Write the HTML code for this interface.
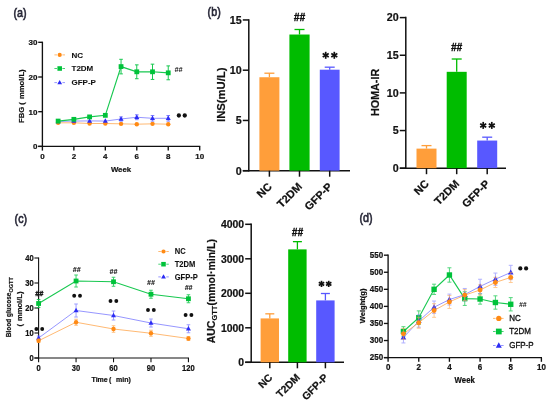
<!DOCTYPE html>
<html><head><meta charset="utf-8"><style>
html,body{margin:0;padding:0;background:#fff;}
svg{display:block;will-change:transform;filter:blur(0.3px);}
text{font-family:"Liberation Sans", sans-serif;}
</style></head><body>
<svg width="550" height="407" viewBox="0 0 550 407">
<rect width="550" height="407" fill="#fff"/>
<line x1="42.40" y1="41.70" x2="42.40" y2="147.00" stroke="#111" stroke-width="1.35" />
<line x1="38.20" y1="146.40" x2="200.30" y2="146.40" stroke="#111" stroke-width="1.35" />
<line x1="38.20" y1="146.40" x2="42.40" y2="146.40" stroke="#111" stroke-width="1.35" />
<text x="37.40" y="149.26" font-size="8.0" text-anchor="end" font-weight="bold" fill="#111"  stroke="#111" stroke-width="0.2">0</text>
<line x1="38.20" y1="111.70" x2="42.40" y2="111.70" stroke="#111" stroke-width="1.35" />
<text x="37.40" y="114.56" font-size="8.0" text-anchor="end" font-weight="bold" fill="#111"  stroke="#111" stroke-width="0.2">10</text>
<line x1="38.20" y1="77.00" x2="42.40" y2="77.00" stroke="#111" stroke-width="1.35" />
<text x="37.40" y="79.86" font-size="8.0" text-anchor="end" font-weight="bold" fill="#111"  stroke="#111" stroke-width="0.2">20</text>
<line x1="38.20" y1="42.30" x2="42.40" y2="42.30" stroke="#111" stroke-width="1.35" />
<text x="37.40" y="45.16" font-size="8.0" text-anchor="end" font-weight="bold" fill="#111"  stroke="#111" stroke-width="0.2">30</text>
<line x1="42.40" y1="146.40" x2="42.40" y2="150.60" stroke="#111" stroke-width="1.35" />
<text x="42.40" y="159.26" font-size="8.0" text-anchor="middle" font-weight="bold" fill="#111"  stroke="#111" stroke-width="0.2">0</text>
<line x1="73.86" y1="146.40" x2="73.86" y2="150.60" stroke="#111" stroke-width="1.35" />
<text x="73.86" y="159.26" font-size="8.0" text-anchor="middle" font-weight="bold" fill="#111"  stroke="#111" stroke-width="0.2">2</text>
<line x1="105.32" y1="146.40" x2="105.32" y2="150.60" stroke="#111" stroke-width="1.35" />
<text x="105.32" y="159.26" font-size="8.0" text-anchor="middle" font-weight="bold" fill="#111"  stroke="#111" stroke-width="0.2">4</text>
<line x1="136.78" y1="146.40" x2="136.78" y2="150.60" stroke="#111" stroke-width="1.35" />
<text x="136.78" y="159.26" font-size="8.0" text-anchor="middle" font-weight="bold" fill="#111"  stroke="#111" stroke-width="0.2">6</text>
<line x1="168.24" y1="146.40" x2="168.24" y2="150.60" stroke="#111" stroke-width="1.35" />
<text x="168.24" y="159.26" font-size="8.0" text-anchor="middle" font-weight="bold" fill="#111"  stroke="#111" stroke-width="0.2">8</text>
<line x1="199.70" y1="146.40" x2="199.70" y2="150.60" stroke="#111" stroke-width="1.35" />
<text x="199.70" y="159.26" font-size="8.0" text-anchor="middle" font-weight="bold" fill="#111"  stroke="#111" stroke-width="0.2">10</text>
<text x="121.00" y="172.39" font-size="7.8" text-anchor="middle" font-weight="bold" fill="#111"  stroke="#111" stroke-width="0.2">Week</text>
<text transform="translate(23.52,122.9) rotate(-90)" font-size="7.6" font-weight="bold" fill="#111" stroke="#111" stroke-width="0.2">FBG<tspan dx="2.2">(</tspan><tspan dx="3.2">mmol/L)</tspan></text>
<polyline points="58.13,122.80 73.86,122.80 89.59,123.50 105.32,123.50 121.05,123.84 136.78,124.19 152.51,123.84 168.24,124.19" fill="none" stroke="#FFA850" stroke-width="1.0" opacity="0.8"/>
<circle cx="58.13" cy="122.80" r="2.20" fill="#FF8A14"/>
<circle cx="73.86" cy="122.80" r="2.20" fill="#FF8A14"/>
<circle cx="89.59" cy="123.50" r="2.20" fill="#FF8A14"/>
<circle cx="105.32" cy="123.50" r="2.20" fill="#FF8A14"/>
<circle cx="121.05" cy="123.84" r="2.20" fill="#FF8A14"/>
<circle cx="136.78" cy="124.19" r="2.20" fill="#FF8A14"/>
<circle cx="152.51" cy="123.84" r="2.20" fill="#FF8A14"/>
<circle cx="168.24" cy="124.19" r="2.20" fill="#FF8A14"/>
<polyline points="58.13,121.42 73.86,121.07 89.59,120.90 105.32,121.07 121.05,118.99 136.78,117.25 152.51,118.29 168.24,118.29" fill="none" stroke="#7C7CFF" stroke-width="1.0" opacity="0.8"/>
<polygon points="58.13,118.72 60.63,123.22 55.63,123.22" fill="#2C2CF4"/>
<polygon points="73.86,118.37 76.36,122.87 71.36,122.87" fill="#2C2CF4"/>
<polygon points="89.59,118.20 92.09,122.70 87.09,122.70" fill="#2C2CF4"/>
<polygon points="105.32,118.37 107.82,122.87 102.82,122.87" fill="#2C2CF4"/>
<g opacity="1.0">
<line x1="121.05" y1="116.91" x2="121.05" y2="121.07" stroke="#7C7CFF" stroke-width="1.0" />
<line x1="119.25" y1="116.91" x2="122.85" y2="116.91" stroke="#7C7CFF" stroke-width="1.0" />
<line x1="119.25" y1="121.07" x2="122.85" y2="121.07" stroke="#7C7CFF" stroke-width="1.0" />
</g>
<polygon points="121.05,116.29 123.55,120.79 118.55,120.79" fill="#2C2CF4"/>
<g opacity="1.0">
<line x1="136.78" y1="114.82" x2="136.78" y2="119.68" stroke="#7C7CFF" stroke-width="1.0" />
<line x1="134.98" y1="114.82" x2="138.58" y2="114.82" stroke="#7C7CFF" stroke-width="1.0" />
<line x1="134.98" y1="119.68" x2="138.58" y2="119.68" stroke="#7C7CFF" stroke-width="1.0" />
</g>
<polygon points="136.78,114.55 139.28,119.05 134.28,119.05" fill="#2C2CF4"/>
<g opacity="1.0">
<line x1="152.51" y1="115.52" x2="152.51" y2="121.07" stroke="#7C7CFF" stroke-width="1.0" />
<line x1="150.71" y1="115.52" x2="154.31" y2="115.52" stroke="#7C7CFF" stroke-width="1.0" />
<line x1="150.71" y1="121.07" x2="154.31" y2="121.07" stroke="#7C7CFF" stroke-width="1.0" />
</g>
<polygon points="152.51,115.59 155.01,120.09 150.01,120.09" fill="#2C2CF4"/>
<g opacity="1.0">
<line x1="168.24" y1="115.52" x2="168.24" y2="121.07" stroke="#7C7CFF" stroke-width="1.0" />
<line x1="166.44" y1="115.52" x2="170.04" y2="115.52" stroke="#7C7CFF" stroke-width="1.0" />
<line x1="166.44" y1="121.07" x2="170.04" y2="121.07" stroke="#7C7CFF" stroke-width="1.0" />
</g>
<polygon points="168.24,115.59 170.74,120.09 165.74,120.09" fill="#2C2CF4"/>
<polyline points="58.13,121.07 73.86,119.33 89.59,116.91 105.32,115.34 121.05,66.59 136.78,71.80 152.51,71.80 168.24,72.84" fill="none" stroke="#18C850" stroke-width="1.15" opacity="1"/>
<rect x="55.73" y="118.67" width="4.80" height="4.80" fill="#00C23A"/>
<rect x="71.46" y="116.93" width="4.80" height="4.80" fill="#00C23A"/>
<rect x="87.19" y="114.50" width="4.80" height="4.80" fill="#00C23A"/>
<rect x="102.92" y="112.94" width="4.80" height="4.80" fill="#00C23A"/>
<g opacity="1.0">
<line x1="121.05" y1="59.30" x2="121.05" y2="73.88" stroke="#18C850" stroke-width="1.0" />
<line x1="119.25" y1="59.30" x2="122.85" y2="59.30" stroke="#18C850" stroke-width="1.0" />
<line x1="119.25" y1="73.88" x2="122.85" y2="73.88" stroke="#18C850" stroke-width="1.0" />
</g>
<rect x="118.65" y="64.19" width="4.80" height="4.80" fill="#00C23A"/>
<g opacity="1.0">
<line x1="136.78" y1="64.86" x2="136.78" y2="78.73" stroke="#18C850" stroke-width="1.0" />
<line x1="134.98" y1="64.86" x2="138.58" y2="64.86" stroke="#18C850" stroke-width="1.0" />
<line x1="134.98" y1="78.73" x2="138.58" y2="78.73" stroke="#18C850" stroke-width="1.0" />
</g>
<rect x="134.38" y="69.39" width="4.80" height="4.80" fill="#00C23A"/>
<g opacity="1.0">
<line x1="152.51" y1="64.16" x2="152.51" y2="79.43" stroke="#18C850" stroke-width="1.0" />
<line x1="150.71" y1="64.16" x2="154.31" y2="64.16" stroke="#18C850" stroke-width="1.0" />
<line x1="150.71" y1="79.43" x2="154.31" y2="79.43" stroke="#18C850" stroke-width="1.0" />
</g>
<rect x="150.11" y="69.39" width="4.80" height="4.80" fill="#00C23A"/>
<g opacity="1.0">
<line x1="168.24" y1="65.90" x2="168.24" y2="79.78" stroke="#18C850" stroke-width="1.0" />
<line x1="166.44" y1="65.90" x2="170.04" y2="65.90" stroke="#18C850" stroke-width="1.0" />
<line x1="166.44" y1="79.78" x2="170.04" y2="79.78" stroke="#18C850" stroke-width="1.0" />
</g>
<rect x="165.84" y="70.44" width="4.80" height="4.80" fill="#00C23A"/>
<line x1="54.40" y1="54.90" x2="65.40" y2="54.90" stroke="#FFA850" stroke-width="1.0" stroke-dasharray="2.6,1.4" opacity="0.8"/>
<circle cx="59.70" cy="54.90" r="2.09" fill="#FF8A14"/>
<text x="71.50" y="57.76" font-size="8.0" text-anchor="start" font-weight="bold" fill="#111" stroke="#111" stroke-width="0.08">NC</text>
<line x1="54.40" y1="68.50" x2="65.40" y2="68.50" stroke="#18C850" stroke-width="1.0" stroke-dasharray="2.6,1.4" opacity="0.8"/>
<rect x="57.42" y="66.22" width="4.56" height="4.56" fill="#00C23A"/>
<text x="71.50" y="71.36" font-size="8.0" text-anchor="start" font-weight="bold" fill="#111" stroke="#111" stroke-width="0.08">T2DM</text>
<line x1="54.40" y1="82.60" x2="65.40" y2="82.60" stroke="#7C7CFF" stroke-width="1.0" stroke-dasharray="2.6,1.4" opacity="0.8"/>
<polygon points="59.70,80.03 62.08,84.31 57.33,84.31" fill="#2C2CF4"/>
<text x="71.50" y="85.46" font-size="8.0" text-anchor="start" font-weight="bold" fill="#111" stroke="#111" stroke-width="0.08">GFP-P</text>
<text x="178.50" y="71.59" font-size="7.2" text-anchor="middle" font-weight="bold" fill="#111" font-style="italic" stroke="#111" stroke-width="0.00">##</text>
<circle cx="178.85" cy="115.50" r="2.15" fill="#111"/>
<circle cx="184.75" cy="115.50" r="2.15" fill="#111"/>
<line x1="248.80" y1="19.20" x2="248.80" y2="171.45" stroke="#111" stroke-width="1.5" />
<line x1="242.80" y1="170.70" x2="350.00" y2="170.70" stroke="#111" stroke-width="1.5" />
<line x1="242.80" y1="170.70" x2="248.80" y2="170.70" stroke="#111" stroke-width="1.5" />
<text x="241.60" y="174.53" font-size="10.7" text-anchor="end" font-weight="bold" fill="#111"  stroke="#111" stroke-width="0.2">0</text>
<line x1="242.80" y1="120.45" x2="248.80" y2="120.45" stroke="#111" stroke-width="1.5" />
<text x="241.60" y="124.28" font-size="10.7" text-anchor="end" font-weight="bold" fill="#111"  stroke="#111" stroke-width="0.2">5</text>
<line x1="242.80" y1="70.20" x2="248.80" y2="70.20" stroke="#111" stroke-width="1.5" />
<text x="241.60" y="74.03" font-size="10.7" text-anchor="end" font-weight="bold" fill="#111"  stroke="#111" stroke-width="0.2">10</text>
<line x1="242.80" y1="19.95" x2="248.80" y2="19.95" stroke="#111" stroke-width="1.5" />
<text x="241.60" y="23.78" font-size="10.7" text-anchor="end" font-weight="bold" fill="#111"  stroke="#111" stroke-width="0.2">15</text>
<rect x="259.40" y="77.23" width="20.00" height="93.47" fill="#FF9E3A"/>
<line x1="269.40" y1="77.23" x2="269.40" y2="73.21" stroke="#FF9E3A" stroke-width="1.3" />
<line x1="264.40" y1="73.21" x2="274.40" y2="73.21" stroke="#FF9E3A" stroke-width="1.3" />
<line x1="269.40" y1="170.70" x2="269.40" y2="176.70" stroke="#111" stroke-width="1.5" />
<text transform="translate(272.60,187.30) rotate(-45)" font-size="11.00" font-weight="bold" text-anchor="end" fill="#111" stroke="#111" stroke-width="0.2">NC</text>
<rect x="289.40" y="34.52" width="20.20" height="136.18" fill="#00BC00"/>
<line x1="299.50" y1="34.52" x2="299.50" y2="29.50" stroke="#00BC00" stroke-width="1.3" />
<line x1="294.50" y1="29.50" x2="304.50" y2="29.50" stroke="#00BC00" stroke-width="1.3" />
<line x1="299.50" y1="170.70" x2="299.50" y2="176.70" stroke="#111" stroke-width="1.5" />
<text transform="translate(302.70,187.30) rotate(-45)" font-size="11.00" font-weight="bold" text-anchor="end" fill="#111" stroke="#111" stroke-width="0.2">T2DM</text>
<rect x="319.80" y="69.70" width="19.80" height="101.00" fill="#5858FF"/>
<line x1="329.70" y1="69.70" x2="329.70" y2="67.18" stroke="#5858FF" stroke-width="1.3" />
<line x1="324.70" y1="67.18" x2="334.70" y2="67.18" stroke="#5858FF" stroke-width="1.3" />
<line x1="329.70" y1="170.70" x2="329.70" y2="176.70" stroke="#111" stroke-width="1.5" />
<text transform="translate(332.90,187.30) rotate(-45)" font-size="11.00" font-weight="bold" text-anchor="end" fill="#111" stroke="#111" stroke-width="0.2">GFP-P</text>
<text transform="translate(224.54,94.80) rotate(-90)" font-size="11" font-weight="bold" text-anchor="middle" fill="#111" stroke="#111" stroke-width="0.2" textLength="54.4" lengthAdjust="spacingAndGlyphs">INS(mU/L)</text>
<text x="299.40" y="20.80" font-size="10" text-anchor="middle" font-weight="bold" fill="#111" font-style="italic" stroke="#111" stroke-width="0.40">##</text>
<line x1="325.70" y1="51.80" x2="325.70" y2="58.80" stroke="#111" stroke-width="1.7" />
<line x1="322.67" y1="53.55" x2="328.73" y2="57.05" stroke="#111" stroke-width="1.7" />
<line x1="328.73" y1="53.55" x2="322.67" y2="57.05" stroke="#111" stroke-width="1.7" />
<line x1="334.30" y1="51.80" x2="334.30" y2="58.80" stroke="#111" stroke-width="1.7" />
<line x1="331.27" y1="53.55" x2="337.33" y2="57.05" stroke="#111" stroke-width="1.7" />
<line x1="337.33" y1="53.55" x2="331.27" y2="57.05" stroke="#111" stroke-width="1.7" />
<line x1="405.80" y1="16.85" x2="405.80" y2="168.95" stroke="#111" stroke-width="1.5" />
<line x1="399.80" y1="168.20" x2="506.00" y2="168.20" stroke="#111" stroke-width="1.5" />
<line x1="399.80" y1="168.20" x2="405.80" y2="168.20" stroke="#111" stroke-width="1.5" />
<text x="398.60" y="172.03" font-size="10.7" text-anchor="end" font-weight="bold" fill="#111"  stroke="#111" stroke-width="0.2">0</text>
<line x1="399.80" y1="130.55" x2="405.80" y2="130.55" stroke="#111" stroke-width="1.5" />
<text x="398.60" y="134.38" font-size="10.7" text-anchor="end" font-weight="bold" fill="#111"  stroke="#111" stroke-width="0.2">5</text>
<line x1="399.80" y1="92.90" x2="405.80" y2="92.90" stroke="#111" stroke-width="1.5" />
<text x="398.60" y="96.73" font-size="10.7" text-anchor="end" font-weight="bold" fill="#111"  stroke="#111" stroke-width="0.2">10</text>
<line x1="399.80" y1="55.25" x2="405.80" y2="55.25" stroke="#111" stroke-width="1.5" />
<text x="398.60" y="59.08" font-size="10.7" text-anchor="end" font-weight="bold" fill="#111"  stroke="#111" stroke-width="0.2">15</text>
<line x1="399.80" y1="17.60" x2="405.80" y2="17.60" stroke="#111" stroke-width="1.5" />
<text x="398.60" y="21.43" font-size="10.7" text-anchor="end" font-weight="bold" fill="#111"  stroke="#111" stroke-width="0.2">20</text>
<rect x="416.50" y="148.62" width="20.00" height="19.58" fill="#FF9E3A"/>
<line x1="426.50" y1="148.62" x2="426.50" y2="145.61" stroke="#FF9E3A" stroke-width="1.3" />
<line x1="421.50" y1="145.61" x2="431.50" y2="145.61" stroke="#FF9E3A" stroke-width="1.3" />
<line x1="426.50" y1="168.20" x2="426.50" y2="174.20" stroke="#111" stroke-width="1.5" />
<text transform="translate(429.70,184.50) rotate(-45)" font-size="11.00" font-weight="bold" text-anchor="end" fill="#111" stroke="#111" stroke-width="0.2">NC</text>
<rect x="446.70" y="71.82" width="20.00" height="96.38" fill="#00BC00"/>
<line x1="456.70" y1="71.82" x2="456.70" y2="59.01" stroke="#00BC00" stroke-width="1.3" />
<line x1="451.70" y1="59.01" x2="461.70" y2="59.01" stroke="#00BC00" stroke-width="1.3" />
<line x1="456.70" y1="168.20" x2="456.70" y2="174.20" stroke="#111" stroke-width="1.5" />
<text transform="translate(459.90,184.50) rotate(-45)" font-size="11.00" font-weight="bold" text-anchor="end" fill="#111" stroke="#111" stroke-width="0.2">T2DM</text>
<rect x="477.20" y="140.56" width="20.00" height="27.64" fill="#5858FF"/>
<line x1="487.20" y1="140.56" x2="487.20" y2="137.18" stroke="#5858FF" stroke-width="1.3" />
<line x1="482.20" y1="137.18" x2="492.20" y2="137.18" stroke="#5858FF" stroke-width="1.3" />
<line x1="487.20" y1="168.20" x2="487.20" y2="174.20" stroke="#111" stroke-width="1.5" />
<text transform="translate(490.40,184.50) rotate(-45)" font-size="11.00" font-weight="bold" text-anchor="end" fill="#111" stroke="#111" stroke-width="0.2">GFP-P</text>
<text transform="translate(378.55,92.40) rotate(-90)" font-size="11" font-weight="bold" text-anchor="middle" fill="#111" stroke="#111" stroke-width="0.2" textLength="47.2" lengthAdjust="spacingAndGlyphs">HOMA-IR</text>
<text x="456.60" y="50.80" font-size="10" text-anchor="middle" font-weight="bold" fill="#111" font-style="italic" stroke="#111" stroke-width="0.40">##</text>
<line x1="483.20" y1="121.90" x2="483.20" y2="128.90" stroke="#111" stroke-width="1.7" />
<line x1="480.17" y1="123.65" x2="486.23" y2="127.15" stroke="#111" stroke-width="1.7" />
<line x1="486.23" y1="123.65" x2="480.17" y2="127.15" stroke="#111" stroke-width="1.7" />
<line x1="491.80" y1="121.90" x2="491.80" y2="128.90" stroke="#111" stroke-width="1.7" />
<line x1="488.77" y1="123.65" x2="494.83" y2="127.15" stroke="#111" stroke-width="1.7" />
<line x1="494.83" y1="123.65" x2="488.77" y2="127.15" stroke="#111" stroke-width="1.7" />
<line x1="251.20" y1="223.55" x2="251.20" y2="363.05" stroke="#111" stroke-width="1.5" />
<line x1="245.20" y1="362.30" x2="344.00" y2="362.30" stroke="#111" stroke-width="1.5" />
<line x1="245.20" y1="362.30" x2="251.20" y2="362.30" stroke="#111" stroke-width="1.5" />
<text x="244.00" y="366.02" font-size="10.4" text-anchor="end" font-weight="bold" fill="#111"  stroke="#111" stroke-width="0.2">0</text>
<line x1="245.20" y1="327.80" x2="251.20" y2="327.80" stroke="#111" stroke-width="1.5" />
<text x="244.00" y="331.52" font-size="10.4" text-anchor="end" font-weight="bold" fill="#111"  stroke="#111" stroke-width="0.2">1000</text>
<line x1="245.20" y1="293.30" x2="251.20" y2="293.30" stroke="#111" stroke-width="1.5" />
<text x="244.00" y="297.02" font-size="10.4" text-anchor="end" font-weight="bold" fill="#111"  stroke="#111" stroke-width="0.2">2000</text>
<line x1="245.20" y1="258.80" x2="251.20" y2="258.80" stroke="#111" stroke-width="1.5" />
<text x="244.00" y="262.52" font-size="10.4" text-anchor="end" font-weight="bold" fill="#111"  stroke="#111" stroke-width="0.2">3000</text>
<line x1="245.20" y1="224.30" x2="251.20" y2="224.30" stroke="#111" stroke-width="1.5" />
<text x="244.00" y="228.02" font-size="10.4" text-anchor="end" font-weight="bold" fill="#111"  stroke="#111" stroke-width="0.2">4000</text>
<rect x="260.60" y="318.42" width="18.40" height="43.88" fill="#FF9E3A"/>
<line x1="269.80" y1="318.42" x2="269.80" y2="313.83" stroke="#FF9E3A" stroke-width="1.3" />
<line x1="265.30" y1="313.83" x2="274.30" y2="313.83" stroke="#FF9E3A" stroke-width="1.3" />
<line x1="269.80" y1="362.30" x2="269.80" y2="368.30" stroke="#111" stroke-width="1.5" />
<text transform="translate(273.00,378.20) rotate(-45)" font-size="10.40" font-weight="bold" text-anchor="end" fill="#111" stroke="#111" stroke-width="0.2">NC</text>
<rect x="288.20" y="249.38" width="18.40" height="112.92" fill="#00BC00"/>
<line x1="297.40" y1="249.38" x2="297.40" y2="241.65" stroke="#00BC00" stroke-width="1.3" />
<line x1="292.90" y1="241.65" x2="301.90" y2="241.65" stroke="#00BC00" stroke-width="1.3" />
<line x1="297.40" y1="362.30" x2="297.40" y2="368.30" stroke="#111" stroke-width="1.5" />
<text transform="translate(300.60,378.20) rotate(-45)" font-size="10.40" font-weight="bold" text-anchor="end" fill="#111" stroke="#111" stroke-width="0.2">T2DM</text>
<rect x="316.20" y="300.41" width="18.40" height="61.89" fill="#5858FF"/>
<line x1="325.40" y1="300.41" x2="325.40" y2="293.51" stroke="#5858FF" stroke-width="1.3" />
<line x1="320.90" y1="293.51" x2="329.90" y2="293.51" stroke="#5858FF" stroke-width="1.3" />
<line x1="325.40" y1="362.30" x2="325.40" y2="368.30" stroke="#111" stroke-width="1.5" />
<text transform="translate(328.60,378.20) rotate(-45)" font-size="10.40" font-weight="bold" text-anchor="end" fill="#111" stroke="#111" stroke-width="0.2">GFP-P</text>
<text transform="translate(214.56,291.20) rotate(-90)" font-size="10.5" font-weight="bold" text-anchor="middle" fill="#111" stroke="#111" stroke-width="0.2" textLength="104.3" lengthAdjust="spacingAndGlyphs">AUC<tspan font-size="7.5" dy="2">GTT</tspan><tspan dy="-2">(mmol·min/L)</tspan></text>
<text x="297.40" y="236.40" font-size="10" text-anchor="middle" font-weight="bold" fill="#111" font-style="italic" stroke="#111" stroke-width="0.40">##</text>
<line x1="321.50" y1="280.80" x2="321.50" y2="287.00" stroke="#111" stroke-width="1.7" />
<line x1="318.82" y1="282.35" x2="324.18" y2="285.45" stroke="#111" stroke-width="1.7" />
<line x1="324.18" y1="282.35" x2="318.82" y2="285.45" stroke="#111" stroke-width="1.7" />
<line x1="328.70" y1="280.80" x2="328.70" y2="287.00" stroke="#111" stroke-width="1.7" />
<line x1="326.02" y1="282.35" x2="331.38" y2="285.45" stroke="#111" stroke-width="1.7" />
<line x1="331.38" y1="282.35" x2="326.02" y2="285.45" stroke="#111" stroke-width="1.7" />
<line x1="38.60" y1="257.40" x2="38.60" y2="358.60" stroke="#111" stroke-width="1.1" />
<line x1="34.40" y1="358.00" x2="189.04" y2="358.00" stroke="#111" stroke-width="1.1" />
<line x1="34.40" y1="358.00" x2="38.60" y2="358.00" stroke="#111" stroke-width="1.1" />
<text transform="translate(33.60,360.72) scale(1,1.08)" font-size="7.6" text-anchor="end" font-weight="bold" fill="#111"  stroke="#111" stroke-width="0.2">0</text>
<line x1="34.40" y1="333.00" x2="38.60" y2="333.00" stroke="#111" stroke-width="1.1" />
<text transform="translate(33.60,335.72) scale(1,1.08)" font-size="7.6" text-anchor="end" font-weight="bold" fill="#111"  stroke="#111" stroke-width="0.2">10</text>
<line x1="34.40" y1="308.00" x2="38.60" y2="308.00" stroke="#111" stroke-width="1.1" />
<text transform="translate(33.60,310.72) scale(1,1.08)" font-size="7.6" text-anchor="end" font-weight="bold" fill="#111"  stroke="#111" stroke-width="0.2">20</text>
<line x1="34.40" y1="283.00" x2="38.60" y2="283.00" stroke="#111" stroke-width="1.1" />
<text transform="translate(33.60,285.72) scale(1,1.08)" font-size="7.6" text-anchor="end" font-weight="bold" fill="#111"  stroke="#111" stroke-width="0.2">30</text>
<line x1="34.40" y1="258.00" x2="38.60" y2="258.00" stroke="#111" stroke-width="1.1" />
<text transform="translate(33.60,260.72) scale(1,1.08)" font-size="7.6" text-anchor="end" font-weight="bold" fill="#111"  stroke="#111" stroke-width="0.2">40</text>
<line x1="38.60" y1="358.00" x2="38.60" y2="362.30" stroke="#111" stroke-width="1.1" />
<text transform="translate(38.60,370.62) scale(1,1.08)" font-size="7.6" text-anchor="middle" font-weight="bold" fill="#111"  stroke="#111" stroke-width="0.2">0</text>
<line x1="76.06" y1="358.00" x2="76.06" y2="362.30" stroke="#111" stroke-width="1.1" />
<text transform="translate(76.06,370.62) scale(1,1.08)" font-size="7.6" text-anchor="middle" font-weight="bold" fill="#111"  stroke="#111" stroke-width="0.2">30</text>
<line x1="113.52" y1="358.00" x2="113.52" y2="362.30" stroke="#111" stroke-width="1.1" />
<text transform="translate(113.52,370.62) scale(1,1.08)" font-size="7.6" text-anchor="middle" font-weight="bold" fill="#111"  stroke="#111" stroke-width="0.2">60</text>
<line x1="150.98" y1="358.00" x2="150.98" y2="362.30" stroke="#111" stroke-width="1.1" />
<text transform="translate(150.98,370.62) scale(1,1.08)" font-size="7.6" text-anchor="middle" font-weight="bold" fill="#111"  stroke="#111" stroke-width="0.2">90</text>
<line x1="188.44" y1="358.00" x2="188.44" y2="362.30" stroke="#111" stroke-width="1.1" />
<text transform="translate(188.44,370.62) scale(1,1.08)" font-size="7.6" text-anchor="middle" font-weight="bold" fill="#111"  stroke="#111" stroke-width="0.2">120</text>
<text x="91.5" y="382.21" font-size="7" font-weight="bold" fill="#111" stroke="#111" stroke-width="0.2">Time<tspan dx="1.2">(</tspan><tspan dx="4.8">min)</tspan></text>
<text transform="translate(11.31,337.2) rotate(-90)" font-size="7.0" font-weight="bold" fill="#111" stroke="#111" stroke-width="0.2" textLength="60" lengthAdjust="spacingAndGlyphs">Blood glucose<tspan font-size="6" dy="1.3">OGTT</tspan></text>
<text transform="translate(21.59,326.5) rotate(-90)" font-size="7.8" font-weight="bold" fill="#111" stroke="#111" stroke-width="0.2" textLength="35" lengthAdjust="spacingAndGlyphs">(<tspan dx="3">mmol/L)</tspan></text>
<polyline points="38.60,303.50 76.06,281.00 113.52,281.75 150.98,294.25 188.44,298.75" fill="none" stroke="#18C850" stroke-width="1.15" opacity="1"/>
<g opacity="0.85">
<line x1="38.60" y1="299.50" x2="38.60" y2="307.50" stroke="#18C850" stroke-width="1.0" />
<line x1="36.80" y1="299.50" x2="40.40" y2="299.50" stroke="#18C850" stroke-width="1.0" />
<line x1="36.80" y1="307.50" x2="40.40" y2="307.50" stroke="#18C850" stroke-width="1.0" />
</g>
<rect x="36.20" y="301.10" width="4.80" height="4.80" fill="#00C23A"/>
<g opacity="0.85">
<line x1="76.06" y1="275.00" x2="76.06" y2="287.00" stroke="#18C850" stroke-width="1.0" />
<line x1="74.26" y1="275.00" x2="77.86" y2="275.00" stroke="#18C850" stroke-width="1.0" />
<line x1="74.26" y1="287.00" x2="77.86" y2="287.00" stroke="#18C850" stroke-width="1.0" />
</g>
<rect x="73.66" y="278.60" width="4.80" height="4.80" fill="#00C23A"/>
<g opacity="0.85">
<line x1="113.52" y1="277.25" x2="113.52" y2="286.25" stroke="#18C850" stroke-width="1.0" />
<line x1="111.72" y1="277.25" x2="115.32" y2="277.25" stroke="#18C850" stroke-width="1.0" />
<line x1="111.72" y1="286.25" x2="115.32" y2="286.25" stroke="#18C850" stroke-width="1.0" />
</g>
<rect x="111.12" y="279.35" width="4.80" height="4.80" fill="#00C23A"/>
<g opacity="0.85">
<line x1="150.98" y1="290.25" x2="150.98" y2="298.25" stroke="#18C850" stroke-width="1.0" />
<line x1="149.18" y1="290.25" x2="152.78" y2="290.25" stroke="#18C850" stroke-width="1.0" />
<line x1="149.18" y1="298.25" x2="152.78" y2="298.25" stroke="#18C850" stroke-width="1.0" />
</g>
<rect x="148.58" y="291.85" width="4.80" height="4.80" fill="#00C23A"/>
<g opacity="0.85">
<line x1="188.44" y1="294.75" x2="188.44" y2="302.75" stroke="#18C850" stroke-width="1.0" />
<line x1="186.64" y1="294.75" x2="190.24" y2="294.75" stroke="#18C850" stroke-width="1.0" />
<line x1="186.64" y1="302.75" x2="190.24" y2="302.75" stroke="#18C850" stroke-width="1.0" />
</g>
<rect x="186.04" y="296.35" width="4.80" height="4.80" fill="#00C23A"/>
<polyline points="38.60,338.00 76.06,310.50 113.52,315.50 150.98,323.00 188.44,328.75" fill="none" stroke="#7C7CFF" stroke-width="1.0" opacity="0.8"/>
<g opacity="0.75">
<line x1="38.60" y1="336.00" x2="38.60" y2="340.00" stroke="#7C7CFF" stroke-width="1.0" />
<line x1="36.80" y1="336.00" x2="40.40" y2="336.00" stroke="#7C7CFF" stroke-width="1.0" />
<line x1="36.80" y1="340.00" x2="40.40" y2="340.00" stroke="#7C7CFF" stroke-width="1.0" />
</g>
<polygon points="38.60,335.30 41.10,339.80 36.10,339.80" fill="#2C2CF4"/>
<g opacity="0.75">
<line x1="76.06" y1="304.00" x2="76.06" y2="317.00" stroke="#7C7CFF" stroke-width="1.0" />
<line x1="74.26" y1="304.00" x2="77.86" y2="304.00" stroke="#7C7CFF" stroke-width="1.0" />
<line x1="74.26" y1="317.00" x2="77.86" y2="317.00" stroke="#7C7CFF" stroke-width="1.0" />
</g>
<polygon points="76.06,307.80 78.56,312.30 73.56,312.30" fill="#2C2CF4"/>
<g opacity="0.75">
<line x1="113.52" y1="311.00" x2="113.52" y2="320.00" stroke="#7C7CFF" stroke-width="1.0" />
<line x1="111.72" y1="311.00" x2="115.32" y2="311.00" stroke="#7C7CFF" stroke-width="1.0" />
<line x1="111.72" y1="320.00" x2="115.32" y2="320.00" stroke="#7C7CFF" stroke-width="1.0" />
</g>
<polygon points="113.52,312.80 116.02,317.30 111.02,317.30" fill="#2C2CF4"/>
<g opacity="0.75">
<line x1="150.98" y1="319.00" x2="150.98" y2="327.00" stroke="#7C7CFF" stroke-width="1.0" />
<line x1="149.18" y1="319.00" x2="152.78" y2="319.00" stroke="#7C7CFF" stroke-width="1.0" />
<line x1="149.18" y1="327.00" x2="152.78" y2="327.00" stroke="#7C7CFF" stroke-width="1.0" />
</g>
<polygon points="150.98,320.30 153.48,324.80 148.48,324.80" fill="#2C2CF4"/>
<g opacity="0.75">
<line x1="188.44" y1="324.75" x2="188.44" y2="332.75" stroke="#7C7CFF" stroke-width="1.0" />
<line x1="186.64" y1="324.75" x2="190.24" y2="324.75" stroke="#7C7CFF" stroke-width="1.0" />
<line x1="186.64" y1="332.75" x2="190.24" y2="332.75" stroke="#7C7CFF" stroke-width="1.0" />
</g>
<polygon points="188.44,326.05 190.94,330.55 185.94,330.55" fill="#2C2CF4"/>
<polyline points="38.60,340.75 76.06,322.25 113.52,329.00 150.98,333.25 188.44,338.50" fill="none" stroke="#FFA850" stroke-width="1.0" opacity="0.8"/>
<g opacity="0.75">
<line x1="38.60" y1="339.25" x2="38.60" y2="342.25" stroke="#FFA850" stroke-width="1.0" />
<line x1="36.80" y1="339.25" x2="40.40" y2="339.25" stroke="#FFA850" stroke-width="1.0" />
<line x1="36.80" y1="342.25" x2="40.40" y2="342.25" stroke="#FFA850" stroke-width="1.0" />
</g>
<circle cx="38.60" cy="340.75" r="2.20" fill="#FF8A14"/>
<g opacity="0.75">
<line x1="76.06" y1="319.25" x2="76.06" y2="325.25" stroke="#FFA850" stroke-width="1.0" />
<line x1="74.26" y1="319.25" x2="77.86" y2="319.25" stroke="#FFA850" stroke-width="1.0" />
<line x1="74.26" y1="325.25" x2="77.86" y2="325.25" stroke="#FFA850" stroke-width="1.0" />
</g>
<circle cx="76.06" cy="322.25" r="2.20" fill="#FF8A14"/>
<g opacity="0.75">
<line x1="113.52" y1="325.75" x2="113.52" y2="332.25" stroke="#FFA850" stroke-width="1.0" />
<line x1="111.72" y1="325.75" x2="115.32" y2="325.75" stroke="#FFA850" stroke-width="1.0" />
<line x1="111.72" y1="332.25" x2="115.32" y2="332.25" stroke="#FFA850" stroke-width="1.0" />
</g>
<circle cx="113.52" cy="329.00" r="2.20" fill="#FF8A14"/>
<g opacity="0.75">
<line x1="150.98" y1="330.25" x2="150.98" y2="336.25" stroke="#FFA850" stroke-width="1.0" />
<line x1="149.18" y1="330.25" x2="152.78" y2="330.25" stroke="#FFA850" stroke-width="1.0" />
<line x1="149.18" y1="336.25" x2="152.78" y2="336.25" stroke="#FFA850" stroke-width="1.0" />
</g>
<circle cx="150.98" cy="333.25" r="2.20" fill="#FF8A14"/>
<g opacity="0.75">
<line x1="188.44" y1="336.50" x2="188.44" y2="340.50" stroke="#FFA850" stroke-width="1.0" />
<line x1="186.64" y1="336.50" x2="190.24" y2="336.50" stroke="#FFA850" stroke-width="1.0" />
<line x1="186.64" y1="340.50" x2="190.24" y2="340.50" stroke="#FFA850" stroke-width="1.0" />
</g>
<circle cx="188.44" cy="338.50" r="2.20" fill="#FF8A14"/>
<line x1="158.30" y1="251.50" x2="168.80" y2="251.50" stroke="#FFA850" stroke-width="1.0" stroke-dasharray="2.6,1.4" opacity="0.8"/>
<circle cx="163.50" cy="251.50" r="2.09" fill="#FF8A14"/>
<text transform="translate(174.70,254.22) scale(1,1.08)" font-size="7.6" text-anchor="start" font-weight="bold" fill="#111" stroke="#111" stroke-width="0.08">NC</text>
<line x1="158.30" y1="264.20" x2="168.80" y2="264.20" stroke="#18C850" stroke-width="1.0" stroke-dasharray="2.6,1.4" opacity="0.8"/>
<rect x="161.22" y="261.92" width="4.56" height="4.56" fill="#00C23A"/>
<text transform="translate(174.70,266.92) scale(1,1.08)" font-size="7.6" text-anchor="start" font-weight="bold" fill="#111" stroke="#111" stroke-width="0.08">T2DM</text>
<line x1="158.30" y1="276.90" x2="168.80" y2="276.90" stroke="#7C7CFF" stroke-width="1.0" stroke-dasharray="2.6,1.4" opacity="0.8"/>
<polygon points="163.50,274.33 165.88,278.61 161.12,278.61" fill="#2C2CF4"/>
<text transform="translate(174.70,279.62) scale(1,1.08)" font-size="7.6" text-anchor="start" font-weight="bold" fill="#111" stroke="#111" stroke-width="0.08">GFP-P</text>
<text transform="translate(39.30,296.09) scale(1,1.08)" font-size="7.2" text-anchor="middle" font-weight="bold" fill="#111" font-style="italic" stroke="#111" stroke-width="0.35">##</text>
<text transform="translate(76.70,272.48) scale(1,1.08)" font-size="6.9" text-anchor="middle" font-weight="bold" fill="#111" font-style="italic" stroke="#111" stroke-width="0.12">##</text>
<text transform="translate(113.40,274.28) scale(1,1.08)" font-size="6.9" text-anchor="middle" font-weight="bold" fill="#111" font-style="italic" stroke="#111" stroke-width="0.12">##</text>
<text transform="translate(150.90,284.98) scale(1,1.08)" font-size="6.9" text-anchor="middle" font-weight="bold" fill="#111" font-style="italic" stroke="#111" stroke-width="0.12">##</text>
<text transform="translate(188.50,290.28) scale(1,1.08)" font-size="6.9" text-anchor="middle" font-weight="bold" fill="#111" font-style="italic" stroke="#111" stroke-width="0.12">##</text>
<circle cx="36.40" cy="329.00" r="1.95" fill="#111"/>
<circle cx="42.20" cy="329.00" r="1.95" fill="#111"/>
<circle cx="74.20" cy="295.80" r="1.95" fill="#111"/>
<circle cx="80.00" cy="295.80" r="1.95" fill="#111"/>
<circle cx="110.50" cy="301.00" r="1.95" fill="#111"/>
<circle cx="116.30" cy="301.00" r="1.95" fill="#111"/>
<circle cx="148.00" cy="310.00" r="1.95" fill="#111"/>
<circle cx="153.80" cy="310.00" r="1.95" fill="#111"/>
<circle cx="185.60" cy="315.00" r="1.95" fill="#111"/>
<circle cx="191.40" cy="315.00" r="1.95" fill="#111"/>
<line x1="388.10" y1="254.58" x2="388.10" y2="358.20" stroke="#111" stroke-width="1.35" />
<line x1="383.90" y1="357.60" x2="542.00" y2="357.60" stroke="#111" stroke-width="1.35" />
<line x1="383.90" y1="357.60" x2="388.10" y2="357.60" stroke="#111" stroke-width="1.35" />
<text transform="translate(383.10,360.46) scale(1,1.15)" font-size="8.0" text-anchor="end" font-weight="bold" fill="#111"  stroke="#111" stroke-width="0.2">250</text>
<line x1="383.90" y1="340.53" x2="388.10" y2="340.53" stroke="#111" stroke-width="1.35" />
<text transform="translate(383.10,343.39) scale(1,1.15)" font-size="8.0" text-anchor="end" font-weight="bold" fill="#111"  stroke="#111" stroke-width="0.2">300</text>
<line x1="383.90" y1="323.46" x2="388.10" y2="323.46" stroke="#111" stroke-width="1.35" />
<text transform="translate(383.10,326.32) scale(1,1.15)" font-size="8.0" text-anchor="end" font-weight="bold" fill="#111"  stroke="#111" stroke-width="0.2">350</text>
<line x1="383.90" y1="306.39" x2="388.10" y2="306.39" stroke="#111" stroke-width="1.35" />
<text transform="translate(383.10,309.25) scale(1,1.15)" font-size="8.0" text-anchor="end" font-weight="bold" fill="#111"  stroke="#111" stroke-width="0.2">400</text>
<line x1="383.90" y1="289.32" x2="388.10" y2="289.32" stroke="#111" stroke-width="1.35" />
<text transform="translate(383.10,292.18) scale(1,1.15)" font-size="8.0" text-anchor="end" font-weight="bold" fill="#111"  stroke="#111" stroke-width="0.2">450</text>
<line x1="383.90" y1="272.25" x2="388.10" y2="272.25" stroke="#111" stroke-width="1.35" />
<text transform="translate(383.10,275.11) scale(1,1.15)" font-size="8.0" text-anchor="end" font-weight="bold" fill="#111"  stroke="#111" stroke-width="0.2">500</text>
<line x1="383.90" y1="255.18" x2="388.10" y2="255.18" stroke="#111" stroke-width="1.35" />
<text transform="translate(383.10,258.04) scale(1,1.15)" font-size="8.0" text-anchor="end" font-weight="bold" fill="#111"  stroke="#111" stroke-width="0.2">550</text>
<line x1="388.10" y1="357.60" x2="388.10" y2="361.80" stroke="#111" stroke-width="1.35" />
<text transform="translate(388.10,370.46) scale(1,1.15)" font-size="8.0" text-anchor="middle" font-weight="bold" fill="#111"  stroke="#111" stroke-width="0.2">0</text>
<line x1="418.76" y1="357.60" x2="418.76" y2="361.80" stroke="#111" stroke-width="1.35" />
<text transform="translate(418.76,370.46) scale(1,1.15)" font-size="8.0" text-anchor="middle" font-weight="bold" fill="#111"  stroke="#111" stroke-width="0.2">2</text>
<line x1="449.42" y1="357.60" x2="449.42" y2="361.80" stroke="#111" stroke-width="1.35" />
<text transform="translate(449.42,370.46) scale(1,1.15)" font-size="8.0" text-anchor="middle" font-weight="bold" fill="#111"  stroke="#111" stroke-width="0.2">4</text>
<line x1="480.08" y1="357.60" x2="480.08" y2="361.80" stroke="#111" stroke-width="1.35" />
<text transform="translate(480.08,370.46) scale(1,1.15)" font-size="8.0" text-anchor="middle" font-weight="bold" fill="#111"  stroke="#111" stroke-width="0.2">6</text>
<line x1="510.74" y1="357.60" x2="510.74" y2="361.80" stroke="#111" stroke-width="1.35" />
<text transform="translate(510.74,370.46) scale(1,1.15)" font-size="8.0" text-anchor="middle" font-weight="bold" fill="#111"  stroke="#111" stroke-width="0.2">8</text>
<line x1="541.40" y1="357.60" x2="541.40" y2="361.80" stroke="#111" stroke-width="1.35" />
<text transform="translate(541.40,370.46) scale(1,1.15)" font-size="8.0" text-anchor="middle" font-weight="bold" fill="#111"  stroke="#111" stroke-width="0.2">10</text>
<text transform="translate(464.70,382.79) scale(1,1.15)" font-size="7.8" text-anchor="middle" font-weight="bold" fill="#111"  stroke="#111" stroke-width="0.2">Week</text>
<text transform="translate(365.02,305.9) rotate(-90)" font-size="7.6" font-weight="bold" text-anchor="middle" fill="#111" stroke="#111" stroke-width="0.2">Weight(g)</text>
<polyline points="403.43,331.48 418.76,317.72 434.09,289.32 449.42,274.98 464.75,298.61 480.08,299.02 495.41,302.50 510.74,304.27" fill="none" stroke="#18C850" stroke-width="1.15" opacity="1"/>
<g opacity="0.75">
<line x1="403.43" y1="326.70" x2="403.43" y2="336.26" stroke="#18C850" stroke-width="1.0" />
<line x1="401.43" y1="326.70" x2="405.43" y2="326.70" stroke="#18C850" stroke-width="1.0" />
<line x1="401.43" y1="336.26" x2="405.43" y2="336.26" stroke="#18C850" stroke-width="1.0" />
</g>
<rect x="400.74" y="328.79" width="5.38" height="5.38" fill="#00C23A"/>
<g opacity="0.75">
<line x1="418.76" y1="310.90" x2="418.76" y2="324.55" stroke="#18C850" stroke-width="1.0" />
<line x1="416.76" y1="310.90" x2="420.76" y2="310.90" stroke="#18C850" stroke-width="1.0" />
<line x1="416.76" y1="324.55" x2="420.76" y2="324.55" stroke="#18C850" stroke-width="1.0" />
</g>
<rect x="416.07" y="315.04" width="5.38" height="5.38" fill="#00C23A"/>
<g opacity="0.75">
<line x1="434.09" y1="284.20" x2="434.09" y2="294.44" stroke="#18C850" stroke-width="1.0" />
<line x1="432.09" y1="284.20" x2="436.09" y2="284.20" stroke="#18C850" stroke-width="1.0" />
<line x1="432.09" y1="294.44" x2="436.09" y2="294.44" stroke="#18C850" stroke-width="1.0" />
</g>
<rect x="431.40" y="286.63" width="5.38" height="5.38" fill="#00C23A"/>
<g opacity="0.75">
<line x1="449.42" y1="267.81" x2="449.42" y2="282.15" stroke="#18C850" stroke-width="1.0" />
<line x1="447.42" y1="267.81" x2="451.42" y2="267.81" stroke="#18C850" stroke-width="1.0" />
<line x1="447.42" y1="282.15" x2="451.42" y2="282.15" stroke="#18C850" stroke-width="1.0" />
</g>
<rect x="446.73" y="272.29" width="5.38" height="5.38" fill="#00C23A"/>
<g opacity="0.75">
<line x1="464.75" y1="291.78" x2="464.75" y2="305.43" stroke="#18C850" stroke-width="1.0" />
<line x1="462.75" y1="291.78" x2="466.75" y2="291.78" stroke="#18C850" stroke-width="1.0" />
<line x1="462.75" y1="305.43" x2="466.75" y2="305.43" stroke="#18C850" stroke-width="1.0" />
</g>
<rect x="462.06" y="295.92" width="5.38" height="5.38" fill="#00C23A"/>
<g opacity="0.75">
<line x1="480.08" y1="293.89" x2="480.08" y2="304.14" stroke="#18C850" stroke-width="1.0" />
<line x1="478.08" y1="293.89" x2="482.08" y2="293.89" stroke="#18C850" stroke-width="1.0" />
<line x1="478.08" y1="304.14" x2="482.08" y2="304.14" stroke="#18C850" stroke-width="1.0" />
</g>
<rect x="477.39" y="296.33" width="5.38" height="5.38" fill="#00C23A"/>
<g opacity="0.75">
<line x1="495.41" y1="295.84" x2="495.41" y2="309.16" stroke="#18C850" stroke-width="1.0" />
<line x1="493.41" y1="295.84" x2="497.41" y2="295.84" stroke="#18C850" stroke-width="1.0" />
<line x1="493.41" y1="309.16" x2="497.41" y2="309.16" stroke="#18C850" stroke-width="1.0" />
</g>
<rect x="492.72" y="299.81" width="5.38" height="5.38" fill="#00C23A"/>
<g opacity="0.75">
<line x1="510.74" y1="297.62" x2="510.74" y2="310.93" stroke="#18C850" stroke-width="1.0" />
<line x1="508.74" y1="297.62" x2="512.74" y2="297.62" stroke="#18C850" stroke-width="1.0" />
<line x1="508.74" y1="310.93" x2="512.74" y2="310.93" stroke="#18C850" stroke-width="1.0" />
</g>
<rect x="508.05" y="301.59" width="5.38" height="5.38" fill="#00C23A"/>
<polyline points="403.43,337.49 418.76,321.07 434.09,307.21 449.42,299.56 464.75,294.61 480.08,286.42 495.41,279.21 510.74,272.49" fill="none" stroke="#7C7CFF" stroke-width="1.0" opacity="0.8"/>
<g opacity="0.6">
<line x1="403.43" y1="332.03" x2="403.43" y2="342.95" stroke="#7C7CFF" stroke-width="1.0" />
<line x1="401.43" y1="332.03" x2="405.43" y2="332.03" stroke="#7C7CFF" stroke-width="1.0" />
<line x1="401.43" y1="342.95" x2="405.43" y2="342.95" stroke="#7C7CFF" stroke-width="1.0" />
</g>
<polygon points="403.43,334.47 406.23,339.51 400.63,339.51" fill="#2C2CF4"/>
<g opacity="0.6">
<line x1="418.76" y1="314.93" x2="418.76" y2="327.22" stroke="#7C7CFF" stroke-width="1.0" />
<line x1="416.76" y1="314.93" x2="420.76" y2="314.93" stroke="#7C7CFF" stroke-width="1.0" />
<line x1="416.76" y1="327.22" x2="420.76" y2="327.22" stroke="#7C7CFF" stroke-width="1.0" />
</g>
<polygon points="418.76,318.05 421.56,323.09 415.96,323.09" fill="#2C2CF4"/>
<g opacity="0.6">
<line x1="434.09" y1="301.06" x2="434.09" y2="313.35" stroke="#7C7CFF" stroke-width="1.0" />
<line x1="432.09" y1="301.06" x2="436.09" y2="301.06" stroke="#7C7CFF" stroke-width="1.0" />
<line x1="432.09" y1="313.35" x2="436.09" y2="313.35" stroke="#7C7CFF" stroke-width="1.0" />
</g>
<polygon points="434.09,304.19 436.89,309.23 431.29,309.23" fill="#2C2CF4"/>
<g opacity="0.6">
<line x1="449.42" y1="294.10" x2="449.42" y2="305.02" stroke="#7C7CFF" stroke-width="1.0" />
<line x1="447.42" y1="294.10" x2="451.42" y2="294.10" stroke="#7C7CFF" stroke-width="1.0" />
<line x1="447.42" y1="305.02" x2="451.42" y2="305.02" stroke="#7C7CFF" stroke-width="1.0" />
</g>
<polygon points="449.42,296.54 452.22,301.58 446.62,301.58" fill="#2C2CF4"/>
<g opacity="0.6">
<line x1="464.75" y1="288.47" x2="464.75" y2="300.76" stroke="#7C7CFF" stroke-width="1.0" />
<line x1="462.75" y1="288.47" x2="466.75" y2="288.47" stroke="#7C7CFF" stroke-width="1.0" />
<line x1="462.75" y1="300.76" x2="466.75" y2="300.76" stroke="#7C7CFF" stroke-width="1.0" />
</g>
<polygon points="464.75,291.59 467.55,296.63 461.95,296.63" fill="#2C2CF4"/>
<g opacity="0.6">
<line x1="480.08" y1="279.25" x2="480.08" y2="293.59" stroke="#7C7CFF" stroke-width="1.0" />
<line x1="478.08" y1="279.25" x2="482.08" y2="279.25" stroke="#7C7CFF" stroke-width="1.0" />
<line x1="478.08" y1="293.59" x2="482.08" y2="293.59" stroke="#7C7CFF" stroke-width="1.0" />
</g>
<polygon points="480.08,283.39 482.88,288.43 477.28,288.43" fill="#2C2CF4"/>
<g opacity="0.6">
<line x1="495.41" y1="273.07" x2="495.41" y2="285.36" stroke="#7C7CFF" stroke-width="1.0" />
<line x1="493.41" y1="273.07" x2="497.41" y2="273.07" stroke="#7C7CFF" stroke-width="1.0" />
<line x1="493.41" y1="285.36" x2="497.41" y2="285.36" stroke="#7C7CFF" stroke-width="1.0" />
</g>
<polygon points="495.41,276.19 498.21,281.23 492.61,281.23" fill="#2C2CF4"/>
<g opacity="0.6">
<line x1="510.74" y1="265.32" x2="510.74" y2="279.66" stroke="#7C7CFF" stroke-width="1.0" />
<line x1="508.74" y1="265.32" x2="512.74" y2="265.32" stroke="#7C7CFF" stroke-width="1.0" />
<line x1="508.74" y1="279.66" x2="512.74" y2="279.66" stroke="#7C7CFF" stroke-width="1.0" />
</g>
<polygon points="510.74,269.46 513.54,274.50 507.94,274.50" fill="#2C2CF4"/>
<polyline points="403.43,333.84 418.76,322.78 434.09,310.49 449.42,301.95 464.75,295.12 480.08,290.00 495.41,282.42 510.74,277.41" fill="none" stroke="#FFA850" stroke-width="1.0" opacity="0.8"/>
<g opacity="0.6">
<line x1="403.43" y1="328.38" x2="403.43" y2="339.30" stroke="#FFA850" stroke-width="1.0" />
<line x1="401.43" y1="328.38" x2="405.43" y2="328.38" stroke="#FFA850" stroke-width="1.0" />
<line x1="401.43" y1="339.30" x2="405.43" y2="339.30" stroke="#FFA850" stroke-width="1.0" />
</g>
<circle cx="403.43" cy="333.84" r="2.46" fill="#FF8A14"/>
<g opacity="0.6">
<line x1="418.76" y1="317.31" x2="418.76" y2="328.24" stroke="#FFA850" stroke-width="1.0" />
<line x1="416.76" y1="317.31" x2="420.76" y2="317.31" stroke="#FFA850" stroke-width="1.0" />
<line x1="416.76" y1="328.24" x2="420.76" y2="328.24" stroke="#FFA850" stroke-width="1.0" />
</g>
<circle cx="418.76" cy="322.78" r="2.46" fill="#FF8A14"/>
<g opacity="0.6">
<line x1="434.09" y1="303.66" x2="434.09" y2="317.31" stroke="#FFA850" stroke-width="1.0" />
<line x1="432.09" y1="303.66" x2="436.09" y2="303.66" stroke="#FFA850" stroke-width="1.0" />
<line x1="432.09" y1="317.31" x2="436.09" y2="317.31" stroke="#FFA850" stroke-width="1.0" />
</g>
<circle cx="434.09" cy="310.49" r="2.46" fill="#FF8A14"/>
<g opacity="0.6">
<line x1="449.42" y1="295.47" x2="449.42" y2="308.44" stroke="#FFA850" stroke-width="1.0" />
<line x1="447.42" y1="295.47" x2="451.42" y2="295.47" stroke="#FFA850" stroke-width="1.0" />
<line x1="447.42" y1="308.44" x2="451.42" y2="308.44" stroke="#FFA850" stroke-width="1.0" />
</g>
<circle cx="449.42" cy="301.95" r="2.46" fill="#FF8A14"/>
<g opacity="0.6">
<line x1="464.75" y1="289.66" x2="464.75" y2="300.59" stroke="#FFA850" stroke-width="1.0" />
<line x1="462.75" y1="289.66" x2="466.75" y2="289.66" stroke="#FFA850" stroke-width="1.0" />
<line x1="462.75" y1="300.59" x2="466.75" y2="300.59" stroke="#FFA850" stroke-width="1.0" />
</g>
<circle cx="464.75" cy="295.12" r="2.46" fill="#FF8A14"/>
<g opacity="0.6">
<line x1="480.08" y1="284.88" x2="480.08" y2="295.12" stroke="#FFA850" stroke-width="1.0" />
<line x1="478.08" y1="284.88" x2="482.08" y2="284.88" stroke="#FFA850" stroke-width="1.0" />
<line x1="478.08" y1="295.12" x2="482.08" y2="295.12" stroke="#FFA850" stroke-width="1.0" />
</g>
<circle cx="480.08" cy="290.00" r="2.46" fill="#FF8A14"/>
<g opacity="0.6">
<line x1="495.41" y1="277.30" x2="495.41" y2="287.54" stroke="#FFA850" stroke-width="1.0" />
<line x1="493.41" y1="277.30" x2="497.41" y2="277.30" stroke="#FFA850" stroke-width="1.0" />
<line x1="493.41" y1="287.54" x2="497.41" y2="287.54" stroke="#FFA850" stroke-width="1.0" />
</g>
<circle cx="495.41" cy="282.42" r="2.46" fill="#FF8A14"/>
<g opacity="0.6">
<line x1="510.74" y1="272.28" x2="510.74" y2="282.53" stroke="#FFA850" stroke-width="1.0" />
<line x1="508.74" y1="272.28" x2="512.74" y2="272.28" stroke="#FFA850" stroke-width="1.0" />
<line x1="508.74" y1="282.53" x2="512.74" y2="282.53" stroke="#FFA850" stroke-width="1.0" />
</g>
<circle cx="510.74" cy="277.41" r="2.46" fill="#FF8A14"/>
<line x1="493.00" y1="318.40" x2="504.60" y2="318.40" stroke="#FFA850" stroke-width="1.0" stroke-dasharray="2.6,1.4" opacity="0.8"/>
<circle cx="498.80" cy="318.40" r="2.64" fill="#FF8A14"/>
<text transform="translate(509.20,321.26) scale(1,1.15)" font-size="8.0" text-anchor="start" font-weight="normal" fill="#111" stroke="#111" stroke-width="0.3">NC</text>
<line x1="493.00" y1="331.50" x2="504.60" y2="331.50" stroke="#18C850" stroke-width="1.0" stroke-dasharray="2.6,1.4" opacity="0.8"/>
<rect x="495.92" y="328.62" width="5.76" height="5.76" fill="#00C23A"/>
<text transform="translate(509.20,334.36) scale(1,1.15)" font-size="8.0" text-anchor="start" font-weight="normal" fill="#111" stroke="#111" stroke-width="0.3">T2DM</text>
<line x1="493.00" y1="345.50" x2="504.60" y2="345.50" stroke="#7C7CFF" stroke-width="1.0" stroke-dasharray="2.6,1.4" opacity="0.8"/>
<polygon points="498.80,342.26 501.80,347.66 495.80,347.66" fill="#2C2CF4"/>
<text transform="translate(509.20,348.36) scale(1,1.15)" font-size="8.0" text-anchor="start" font-weight="normal" fill="#111" stroke="#111" stroke-width="0.3">GFP-P</text>
<circle cx="520.30" cy="268.40" r="2.1" fill="#111"/>
<circle cx="526.10" cy="268.40" r="2.1" fill="#111"/>
<text transform="translate(522.80,306.95) scale(1,1.15)" font-size="6.8" text-anchor="middle" font-weight="bold" fill="#111" font-style="italic" stroke="#111" stroke-width="0.00">##</text>
<text transform="translate(13.4,16.6) scale(0.96,1.08)" font-size="11.2" font-weight="normal" fill="#262636" stroke="#262636" stroke-width="0.55">(a)</text>
<text transform="translate(207.6,16.4) scale(0.96,1.08)" font-size="11.2" font-weight="normal" fill="#262636" stroke="#262636" stroke-width="0.55">(b)</text>
<text transform="translate(14.6,222.8) scale(0.96,1.08)" font-size="11.2" font-weight="normal" fill="#262636" stroke="#262636" stroke-width="0.55">(c)</text>
<text transform="translate(359.4,222.0) scale(0.96,1.08)" font-size="11.2" font-weight="normal" fill="#262636" stroke="#262636" stroke-width="0.55">(d)</text>
</svg></body></html>
